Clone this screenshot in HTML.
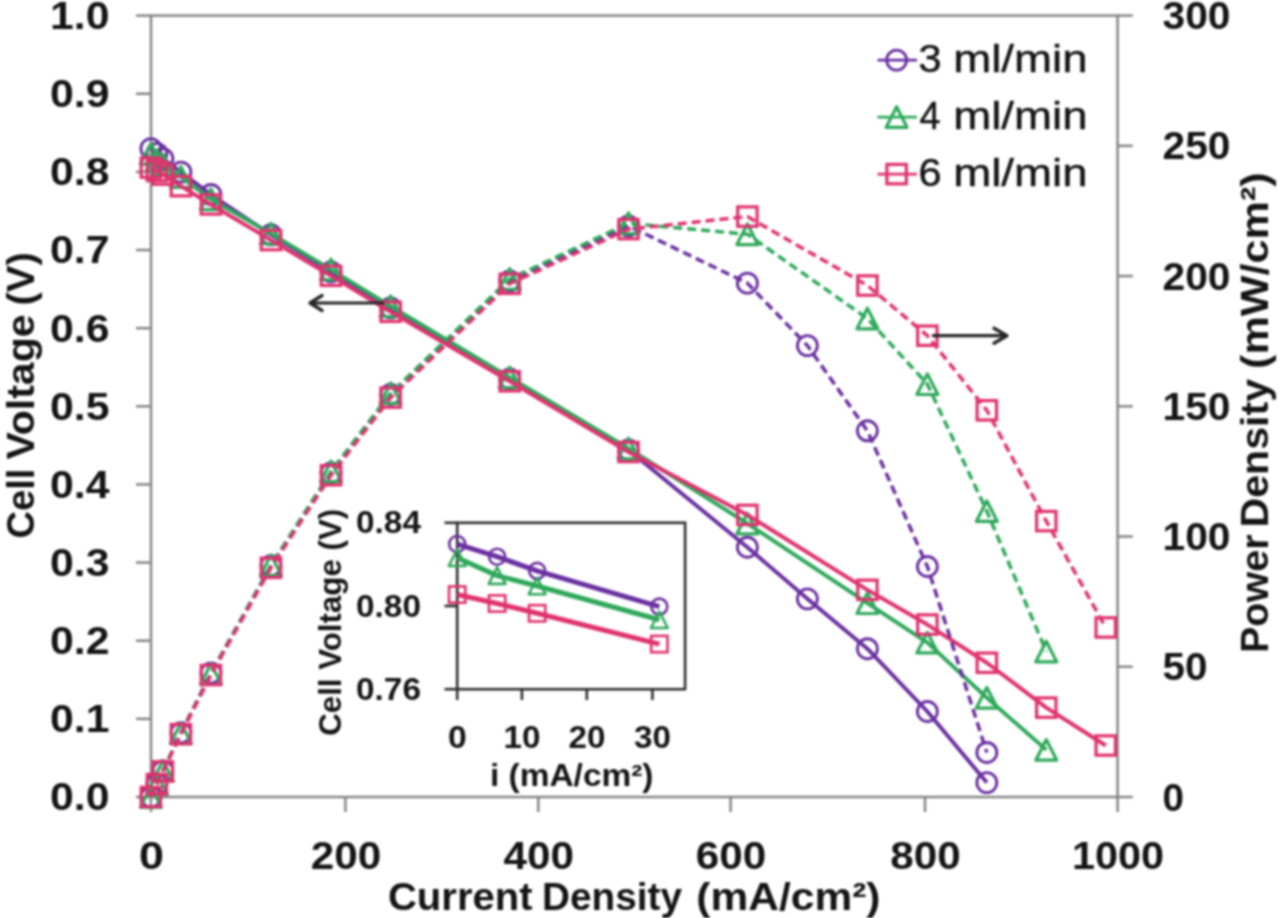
<!DOCTYPE html>
<html><head><meta charset="utf-8"><title>Cell voltage and power density chart</title>
<style>html,body{margin:0;padding:0;background:#fff;}svg{display:block;}#wrap{width:1280px;height:918px;overflow:hidden;filter:blur(1px);}</style></head>
<body>
<div id="wrap">
<svg width="1280" height="918" viewBox="0 0 1280 918">
<rect width="1280" height="918" fill="#fff"/>
<rect x="151.0" y="15.6" width="966.5999999999999" height="781.4" fill="none" stroke="#858585" stroke-width="2.5"/>
<line x1="136" y1="797.00" x2="151.0" y2="797.00" stroke="#858585" stroke-width="2.5"/>
<line x1="136" y1="718.86" x2="151.0" y2="718.86" stroke="#858585" stroke-width="2.5"/>
<line x1="136" y1="640.72" x2="151.0" y2="640.72" stroke="#858585" stroke-width="2.5"/>
<line x1="136" y1="562.58" x2="151.0" y2="562.58" stroke="#858585" stroke-width="2.5"/>
<line x1="136" y1="484.44" x2="151.0" y2="484.44" stroke="#858585" stroke-width="2.5"/>
<line x1="136" y1="406.30" x2="151.0" y2="406.30" stroke="#858585" stroke-width="2.5"/>
<line x1="136" y1="328.16" x2="151.0" y2="328.16" stroke="#858585" stroke-width="2.5"/>
<line x1="136" y1="250.02" x2="151.0" y2="250.02" stroke="#858585" stroke-width="2.5"/>
<line x1="136" y1="171.88" x2="151.0" y2="171.88" stroke="#858585" stroke-width="2.5"/>
<line x1="136" y1="93.74" x2="151.0" y2="93.74" stroke="#858585" stroke-width="2.5"/>
<line x1="136" y1="15.60" x2="151.0" y2="15.60" stroke="#858585" stroke-width="2.5"/>
<line x1="1117.6" y1="797.00" x2="1132.8" y2="797.00" stroke="#858585" stroke-width="2.5"/>
<line x1="1117.6" y1="666.77" x2="1132.8" y2="666.77" stroke="#858585" stroke-width="2.5"/>
<line x1="1117.6" y1="536.53" x2="1132.8" y2="536.53" stroke="#858585" stroke-width="2.5"/>
<line x1="1117.6" y1="406.30" x2="1132.8" y2="406.30" stroke="#858585" stroke-width="2.5"/>
<line x1="1117.6" y1="276.07" x2="1132.8" y2="276.07" stroke="#858585" stroke-width="2.5"/>
<line x1="1117.6" y1="145.83" x2="1132.8" y2="145.83" stroke="#858585" stroke-width="2.5"/>
<line x1="1117.6" y1="15.60" x2="1132.8" y2="15.60" stroke="#858585" stroke-width="2.5"/>
<line x1="150.90" y1="797.0" x2="150.90" y2="812" stroke="#858585" stroke-width="2.5"/>
<line x1="345.40" y1="797.0" x2="345.40" y2="812" stroke="#858585" stroke-width="2.5"/>
<line x1="538.30" y1="797.0" x2="538.30" y2="812" stroke="#858585" stroke-width="2.5"/>
<line x1="730.60" y1="797.0" x2="730.60" y2="812" stroke="#858585" stroke-width="2.5"/>
<line x1="925.00" y1="797.0" x2="925.00" y2="812" stroke="#858585" stroke-width="2.5"/>
<line x1="1117.60" y1="797.0" x2="1117.60" y2="812" stroke="#858585" stroke-width="2.5"/>
<polyline points="150.90,148.59 156.90,153.36 162.91,158.67 180.91,172.11 210.93,194.54 270.96,234.78 331.00,271.90 390.64,307.84 509.72,378.95 628.52,450.06 747.40,547.26 807.40,598.84 867.40,648.69 927.38,711.51 986.82,782.62" fill="none" stroke="#6a30a0" stroke-width="3.9" stroke-linejoin="round"/>
<circle cx="150.90" cy="148.59" r="10.0" fill="none" stroke="#6a30a0" stroke-width="2.9"/>
<circle cx="156.90" cy="153.36" r="10.0" fill="none" stroke="#6a30a0" stroke-width="2.9"/>
<circle cx="162.91" cy="158.67" r="10.0" fill="none" stroke="#6a30a0" stroke-width="2.9"/>
<circle cx="180.91" cy="172.11" r="10.0" fill="none" stroke="#6a30a0" stroke-width="2.9"/>
<circle cx="210.93" cy="194.54" r="10.0" fill="none" stroke="#6a30a0" stroke-width="2.9"/>
<circle cx="270.96" cy="234.78" r="10.0" fill="none" stroke="#6a30a0" stroke-width="2.9"/>
<circle cx="331.00" cy="271.90" r="10.0" fill="none" stroke="#6a30a0" stroke-width="2.9"/>
<circle cx="390.64" cy="307.84" r="10.0" fill="none" stroke="#6a30a0" stroke-width="2.9"/>
<circle cx="509.72" cy="378.95" r="10.0" fill="none" stroke="#6a30a0" stroke-width="2.9"/>
<circle cx="628.52" cy="450.06" r="10.0" fill="none" stroke="#6a30a0" stroke-width="2.9"/>
<circle cx="747.40" cy="547.26" r="10.0" fill="none" stroke="#6a30a0" stroke-width="2.9"/>
<circle cx="807.40" cy="598.84" r="10.0" fill="none" stroke="#6a30a0" stroke-width="2.9"/>
<circle cx="867.40" cy="648.69" r="10.0" fill="none" stroke="#6a30a0" stroke-width="2.9"/>
<circle cx="927.38" cy="711.51" r="10.0" fill="none" stroke="#6a30a0" stroke-width="2.9"/>
<circle cx="986.82" cy="782.62" r="10.0" fill="none" stroke="#6a30a0" stroke-width="2.9"/>
<polyline points="150.90,153.75 156.90,160.47 162.91,164.38 180.91,177.04 210.93,199.23 270.96,233.61 331.00,269.55 390.64,306.28 509.72,377.39 628.52,448.50 747.40,523.51 867.40,603.21 927.38,642.67 986.82,697.76 1046.27,749.88" fill="none" stroke="#2fa85a" stroke-width="3.9" stroke-linejoin="round"/>
<polygon points="150.90,143.45 161.40,164.05 140.40,164.05" fill="none" stroke="#2fa85a" stroke-width="3.2" stroke-linejoin="round"/>
<polygon points="156.90,150.17 167.40,170.77 146.40,170.77" fill="none" stroke="#2fa85a" stroke-width="3.2" stroke-linejoin="round"/>
<polygon points="162.91,154.08 173.41,174.68 152.41,174.68" fill="none" stroke="#2fa85a" stroke-width="3.2" stroke-linejoin="round"/>
<polygon points="180.91,166.74 191.41,187.34 170.41,187.34" fill="none" stroke="#2fa85a" stroke-width="3.2" stroke-linejoin="round"/>
<polygon points="210.93,188.93 221.43,209.53 200.43,209.53" fill="none" stroke="#2fa85a" stroke-width="3.2" stroke-linejoin="round"/>
<polygon points="270.96,223.31 281.46,243.91 260.46,243.91" fill="none" stroke="#2fa85a" stroke-width="3.2" stroke-linejoin="round"/>
<polygon points="331.00,259.25 341.50,279.85 320.50,279.85" fill="none" stroke="#2fa85a" stroke-width="3.2" stroke-linejoin="round"/>
<polygon points="390.64,295.98 401.14,316.58 380.14,316.58" fill="none" stroke="#2fa85a" stroke-width="3.2" stroke-linejoin="round"/>
<polygon points="509.72,367.09 520.22,387.69 499.22,387.69" fill="none" stroke="#2fa85a" stroke-width="3.2" stroke-linejoin="round"/>
<polygon points="628.52,438.20 639.02,458.80 618.02,458.80" fill="none" stroke="#2fa85a" stroke-width="3.2" stroke-linejoin="round"/>
<polygon points="747.40,513.21 757.90,533.81 736.90,533.81" fill="none" stroke="#2fa85a" stroke-width="3.2" stroke-linejoin="round"/>
<polygon points="867.40,592.91 877.90,613.51 856.90,613.51" fill="none" stroke="#2fa85a" stroke-width="3.2" stroke-linejoin="round"/>
<polygon points="927.38,632.37 937.88,652.97 916.88,652.97" fill="none" stroke="#2fa85a" stroke-width="3.2" stroke-linejoin="round"/>
<polygon points="986.82,687.46 997.32,708.06 976.32,708.06" fill="none" stroke="#2fa85a" stroke-width="3.2" stroke-linejoin="round"/>
<polygon points="1046.27,739.58 1056.77,760.18 1035.77,760.18" fill="none" stroke="#2fa85a" stroke-width="3.2" stroke-linejoin="round"/>
<polyline points="150.90,167.58 156.90,170.94 162.91,174.61 180.91,186.18 210.93,204.46 270.96,240.10 331.00,275.81 390.64,311.75 509.72,381.30 628.52,452.01 747.40,514.91 867.40,589.85 927.38,624.55 986.82,662.76 1046.27,707.61 1105.71,745.51" fill="none" stroke="#e0326e" stroke-width="3.9" stroke-linejoin="round"/>
<rect x="141.20" y="157.88" width="19.4" height="19.4" fill="none" stroke="#e0326e" stroke-width="3.2"/>
<rect x="147.20" y="161.24" width="19.4" height="19.4" fill="none" stroke="#e0326e" stroke-width="3.2"/>
<rect x="153.21" y="164.91" width="19.4" height="19.4" fill="none" stroke="#e0326e" stroke-width="3.2"/>
<rect x="171.21" y="176.48" width="19.4" height="19.4" fill="none" stroke="#e0326e" stroke-width="3.2"/>
<rect x="201.23" y="194.76" width="19.4" height="19.4" fill="none" stroke="#e0326e" stroke-width="3.2"/>
<rect x="261.26" y="230.40" width="19.4" height="19.4" fill="none" stroke="#e0326e" stroke-width="3.2"/>
<rect x="321.30" y="266.11" width="19.4" height="19.4" fill="none" stroke="#e0326e" stroke-width="3.2"/>
<rect x="380.94" y="302.05" width="19.4" height="19.4" fill="none" stroke="#e0326e" stroke-width="3.2"/>
<rect x="500.02" y="371.60" width="19.4" height="19.4" fill="none" stroke="#e0326e" stroke-width="3.2"/>
<rect x="618.82" y="442.31" width="19.4" height="19.4" fill="none" stroke="#e0326e" stroke-width="3.2"/>
<rect x="737.70" y="505.21" width="19.4" height="19.4" fill="none" stroke="#e0326e" stroke-width="3.2"/>
<rect x="857.70" y="580.15" width="19.4" height="19.4" fill="none" stroke="#e0326e" stroke-width="3.2"/>
<rect x="917.68" y="614.85" width="19.4" height="19.4" fill="none" stroke="#e0326e" stroke-width="3.2"/>
<rect x="977.12" y="653.06" width="19.4" height="19.4" fill="none" stroke="#e0326e" stroke-width="3.2"/>
<rect x="1036.57" y="697.91" width="19.4" height="19.4" fill="none" stroke="#e0326e" stroke-width="3.2"/>
<rect x="1096.01" y="735.81" width="19.4" height="19.4" fill="none" stroke="#e0326e" stroke-width="3.2"/>
<polyline points="150.90,797.00 156.90,783.76 162.91,770.72 180.91,732.72 210.93,673.03 270.96,565.63 331.00,472.86 390.64,394.41 509.72,280.89 628.52,225.90 747.40,283.14 807.40,345.61 867.40,430.80 927.38,566.49 986.82,752.46" fill="none" stroke="#6a30a0" stroke-width="3.5" stroke-linejoin="round" stroke-dasharray="9 5"/>
<circle cx="150.90" cy="797.00" r="10.0" fill="none" stroke="#6a30a0" stroke-width="2.9"/>
<circle cx="156.90" cy="783.76" r="10.0" fill="none" stroke="#6a30a0" stroke-width="2.9"/>
<circle cx="162.91" cy="770.72" r="10.0" fill="none" stroke="#6a30a0" stroke-width="2.9"/>
<circle cx="180.91" cy="732.72" r="10.0" fill="none" stroke="#6a30a0" stroke-width="2.9"/>
<circle cx="210.93" cy="673.03" r="10.0" fill="none" stroke="#6a30a0" stroke-width="2.9"/>
<circle cx="270.96" cy="565.63" r="10.0" fill="none" stroke="#6a30a0" stroke-width="2.9"/>
<circle cx="331.00" cy="472.86" r="10.0" fill="none" stroke="#6a30a0" stroke-width="2.9"/>
<circle cx="390.64" cy="394.41" r="10.0" fill="none" stroke="#6a30a0" stroke-width="2.9"/>
<circle cx="509.72" cy="280.89" r="10.0" fill="none" stroke="#6a30a0" stroke-width="2.9"/>
<circle cx="628.52" cy="225.90" r="10.0" fill="none" stroke="#6a30a0" stroke-width="2.9"/>
<circle cx="747.40" cy="283.14" r="10.0" fill="none" stroke="#6a30a0" stroke-width="2.9"/>
<circle cx="807.40" cy="345.61" r="10.0" fill="none" stroke="#6a30a0" stroke-width="2.9"/>
<circle cx="867.40" cy="430.80" r="10.0" fill="none" stroke="#6a30a0" stroke-width="2.9"/>
<circle cx="927.38" cy="566.49" r="10.0" fill="none" stroke="#6a30a0" stroke-width="2.9"/>
<circle cx="986.82" cy="752.46" r="10.0" fill="none" stroke="#6a30a0" stroke-width="2.9"/>
<polyline points="150.90,797.00 156.90,783.91 162.91,770.96 180.91,733.23 210.93,674.00 270.96,565.15 331.00,471.41 390.64,393.12 509.72,278.96 628.52,223.33 747.40,234.27 867.40,318.51 927.38,384.19 986.82,511.13 1046.27,651.57" fill="none" stroke="#2fa85a" stroke-width="3.5" stroke-linejoin="round" stroke-dasharray="9 5"/>
<polygon points="150.90,786.70 161.40,807.30 140.40,807.30" fill="none" stroke="#2fa85a" stroke-width="3.2" stroke-linejoin="round"/>
<polygon points="156.90,773.61 167.40,794.21 146.40,794.21" fill="none" stroke="#2fa85a" stroke-width="3.2" stroke-linejoin="round"/>
<polygon points="162.91,760.66 173.41,781.26 152.41,781.26" fill="none" stroke="#2fa85a" stroke-width="3.2" stroke-linejoin="round"/>
<polygon points="180.91,722.93 191.41,743.53 170.41,743.53" fill="none" stroke="#2fa85a" stroke-width="3.2" stroke-linejoin="round"/>
<polygon points="210.93,663.70 221.43,684.30 200.43,684.30" fill="none" stroke="#2fa85a" stroke-width="3.2" stroke-linejoin="round"/>
<polygon points="270.96,554.85 281.46,575.45 260.46,575.45" fill="none" stroke="#2fa85a" stroke-width="3.2" stroke-linejoin="round"/>
<polygon points="331.00,461.11 341.50,481.71 320.50,481.71" fill="none" stroke="#2fa85a" stroke-width="3.2" stroke-linejoin="round"/>
<polygon points="390.64,382.82 401.14,403.42 380.14,403.42" fill="none" stroke="#2fa85a" stroke-width="3.2" stroke-linejoin="round"/>
<polygon points="509.72,268.66 520.22,289.26 499.22,289.26" fill="none" stroke="#2fa85a" stroke-width="3.2" stroke-linejoin="round"/>
<polygon points="628.52,213.03 639.02,233.63 618.02,233.63" fill="none" stroke="#2fa85a" stroke-width="3.2" stroke-linejoin="round"/>
<polygon points="747.40,223.97 757.90,244.57 736.90,244.57" fill="none" stroke="#2fa85a" stroke-width="3.2" stroke-linejoin="round"/>
<polygon points="867.40,308.21 877.90,328.81 856.90,328.81" fill="none" stroke="#2fa85a" stroke-width="3.2" stroke-linejoin="round"/>
<polygon points="927.38,373.89 937.88,394.49 916.88,394.49" fill="none" stroke="#2fa85a" stroke-width="3.2" stroke-linejoin="round"/>
<polygon points="986.82,500.83 997.32,521.43 976.32,521.43" fill="none" stroke="#2fa85a" stroke-width="3.2" stroke-linejoin="round"/>
<polygon points="1046.27,641.27 1056.77,661.87 1035.77,661.87" fill="none" stroke="#2fa85a" stroke-width="3.2" stroke-linejoin="round"/>
<polyline points="150.90,797.00 156.90,784.12 162.91,771.38 180.91,734.17 210.93,675.08 270.96,567.82 331.00,475.27 390.64,397.62 509.72,283.78 628.52,229.12 747.40,216.58 867.40,285.52 927.38,335.70 986.82,410.29 1046.27,521.10 1105.71,627.47" fill="none" stroke="#e0326e" stroke-width="3.5" stroke-linejoin="round" stroke-dasharray="9 5"/>
<rect x="141.20" y="787.30" width="19.4" height="19.4" fill="none" stroke="#e0326e" stroke-width="3.2"/>
<rect x="147.20" y="774.42" width="19.4" height="19.4" fill="none" stroke="#e0326e" stroke-width="3.2"/>
<rect x="153.21" y="761.68" width="19.4" height="19.4" fill="none" stroke="#e0326e" stroke-width="3.2"/>
<rect x="171.21" y="724.47" width="19.4" height="19.4" fill="none" stroke="#e0326e" stroke-width="3.2"/>
<rect x="201.23" y="665.38" width="19.4" height="19.4" fill="none" stroke="#e0326e" stroke-width="3.2"/>
<rect x="261.26" y="558.12" width="19.4" height="19.4" fill="none" stroke="#e0326e" stroke-width="3.2"/>
<rect x="321.30" y="465.57" width="19.4" height="19.4" fill="none" stroke="#e0326e" stroke-width="3.2"/>
<rect x="380.94" y="387.92" width="19.4" height="19.4" fill="none" stroke="#e0326e" stroke-width="3.2"/>
<rect x="500.02" y="274.08" width="19.4" height="19.4" fill="none" stroke="#e0326e" stroke-width="3.2"/>
<rect x="618.82" y="219.42" width="19.4" height="19.4" fill="none" stroke="#e0326e" stroke-width="3.2"/>
<rect x="737.70" y="206.88" width="19.4" height="19.4" fill="none" stroke="#e0326e" stroke-width="3.2"/>
<rect x="857.70" y="275.82" width="19.4" height="19.4" fill="none" stroke="#e0326e" stroke-width="3.2"/>
<rect x="917.68" y="326.00" width="19.4" height="19.4" fill="none" stroke="#e0326e" stroke-width="3.2"/>
<rect x="977.12" y="400.59" width="19.4" height="19.4" fill="none" stroke="#e0326e" stroke-width="3.2"/>
<rect x="1036.57" y="511.40" width="19.4" height="19.4" fill="none" stroke="#e0326e" stroke-width="3.2"/>
<rect x="1096.01" y="617.77" width="19.4" height="19.4" fill="none" stroke="#e0326e" stroke-width="3.2"/>

<line x1="311" y1="303" x2="384" y2="303" stroke="#262626" stroke-width="3.2"/>
<polyline points="322,295.5 310,303 322,310.5" fill="none" stroke="#262626" stroke-width="3.4" stroke-linecap="round" stroke-linejoin="round"/>
<line x1="932" y1="335.7" x2="1006" y2="335.7" stroke="#262626" stroke-width="3.2"/>
<polyline points="994,328.2 1007,335.7 994,343.2" fill="none" stroke="#262626" stroke-width="3.4" stroke-linecap="round" stroke-linejoin="round"/>

<rect x="457.2" y="522.8" width="227.90000000000003" height="166.4000000000001" fill="#fff" stroke="#2e2e2e" stroke-width="2.6"/>
<line x1="444.5" y1="689.20" x2="457.2" y2="689.20" stroke="#2e2e2e" stroke-width="2.6"/>
<line x1="444.5" y1="606.00" x2="457.2" y2="606.00" stroke="#2e2e2e" stroke-width="2.6"/>
<line x1="444.5" y1="522.80" x2="457.2" y2="522.80" stroke="#2e2e2e" stroke-width="2.6"/>
<line x1="457.20" y1="689.2" x2="457.20" y2="700" stroke="#2e2e2e" stroke-width="2.6"/>
<line x1="521.90" y1="689.2" x2="521.90" y2="700" stroke="#2e2e2e" stroke-width="2.6"/>
<line x1="586.80" y1="689.2" x2="586.80" y2="700" stroke="#2e2e2e" stroke-width="2.6"/>
<line x1="652.40" y1="689.2" x2="652.40" y2="700" stroke="#2e2e2e" stroke-width="2.6"/>
<polyline points="457.20,544.02 497.12,556.70 537.15,570.85 659.33,606.62" fill="none" stroke="#6a30a0" stroke-width="5.0" stroke-linejoin="round"/>
<circle cx="457.20" cy="544.02" r="8.0" fill="none" stroke="#6a30a0" stroke-width="2.6"/>
<circle cx="497.12" cy="556.70" r="8.0" fill="none" stroke="#6a30a0" stroke-width="2.6"/>
<circle cx="537.15" cy="570.85" r="8.0" fill="none" stroke="#6a30a0" stroke-width="2.6"/>
<circle cx="659.33" cy="606.62" r="8.0" fill="none" stroke="#6a30a0" stroke-width="2.6"/>
<polyline points="457.20,557.74 497.12,575.63 537.15,586.03 659.33,619.73" fill="none" stroke="#2fa85a" stroke-width="5.0" stroke-linejoin="round"/>
<polygon points="457.20,549.50 465.60,565.98 448.80,565.98" fill="none" stroke="#2fa85a" stroke-width="2.6" stroke-linejoin="round"/>
<polygon points="497.12,567.39 505.52,583.87 488.72,583.87" fill="none" stroke="#2fa85a" stroke-width="2.6" stroke-linejoin="round"/>
<polygon points="537.15,577.79 545.55,594.27 528.75,594.27" fill="none" stroke="#2fa85a" stroke-width="2.6" stroke-linejoin="round"/>
<polygon points="659.33,611.49 667.73,627.97 650.93,627.97" fill="none" stroke="#2fa85a" stroke-width="2.6" stroke-linejoin="round"/>
<polyline points="457.20,594.56 497.12,603.50 537.15,613.28 659.33,644.06" fill="none" stroke="#e0326e" stroke-width="5.0" stroke-linejoin="round"/>
<rect x="449.05" y="586.41" width="16.296" height="16.296" fill="none" stroke="#e0326e" stroke-width="2.6"/>
<rect x="488.97" y="595.36" width="16.296" height="16.296" fill="none" stroke="#e0326e" stroke-width="2.6"/>
<rect x="529.00" y="605.13" width="16.296" height="16.296" fill="none" stroke="#e0326e" stroke-width="2.6"/>
<rect x="651.18" y="635.92" width="16.296" height="16.296" fill="none" stroke="#e0326e" stroke-width="2.6"/>
<text x="421" y="699.80" font-family="Liberation Sans, Arial, sans-serif" font-weight="bold" font-size="31" text-anchor="end" textLength="65" lengthAdjust="spacingAndGlyphs" fill="#141414">0.76</text>
<text x="421" y="616.60" font-family="Liberation Sans, Arial, sans-serif" font-weight="bold" font-size="31" text-anchor="end" textLength="65" lengthAdjust="spacingAndGlyphs" fill="#141414">0.80</text>
<text x="421" y="533.40" font-family="Liberation Sans, Arial, sans-serif" font-weight="bold" font-size="31" text-anchor="end" textLength="65" lengthAdjust="spacingAndGlyphs" fill="#141414">0.84</text>
<text x="457.30" y="747.8" font-family="Liberation Sans, Arial, sans-serif" font-weight="bold" font-size="31" text-anchor="middle" textLength="18.8" lengthAdjust="spacingAndGlyphs" fill="#141414">0</text>
<text x="522.00" y="747.8" font-family="Liberation Sans, Arial, sans-serif" font-weight="bold" font-size="31" text-anchor="middle" textLength="37" lengthAdjust="spacingAndGlyphs" fill="#141414">10</text>
<text x="586.90" y="747.8" font-family="Liberation Sans, Arial, sans-serif" font-weight="bold" font-size="31" text-anchor="middle" textLength="37" lengthAdjust="spacingAndGlyphs" fill="#141414">20</text>
<text x="652.50" y="747.8" font-family="Liberation Sans, Arial, sans-serif" font-weight="bold" font-size="31" text-anchor="middle" textLength="37" lengthAdjust="spacingAndGlyphs" fill="#141414">30</text>
<text x="490" y="786" font-family="Liberation Sans, Arial, sans-serif" font-weight="bold" font-size="31" textLength="163.5" lengthAdjust="spacingAndGlyphs" fill="#141414">i (mA/cm²)</text>
<text transform="translate(340.7,735.8) rotate(-90)" x="0" y="0" font-family="Liberation Sans, Arial, sans-serif" font-weight="bold" font-size="31" textLength="227" lengthAdjust="spacingAndGlyphs" fill="#141414">Cell Voltage (V)</text>
<line x1="877.5" y1="60.1" x2="917" y2="60.1" stroke="#6a30a0" stroke-width="2.6"/>
<circle cx="896.60" cy="60.10" r="10.0" fill="none" stroke="#6a30a0" stroke-width="2.9"/>
<text x="918.55" y="71.6" font-family="Liberation Sans, Arial, sans-serif" font-size="38.5" textLength="23.10" lengthAdjust="spacingAndGlyphs" fill="#141414" stroke="#141414" stroke-width="0.45">3</text>
<text x="953.23" y="71.6" font-family="Liberation Sans, Arial, sans-serif" font-size="38.5" textLength="134.33" lengthAdjust="spacingAndGlyphs" fill="#141414" stroke="#141414" stroke-width="0.45">ml/min</text>
<line x1="877.5" y1="117.1" x2="917" y2="117.1" stroke="#2fa85a" stroke-width="2.6"/>
<polygon points="896.60,106.80 907.10,127.40 886.10,127.40" fill="none" stroke="#2fa85a" stroke-width="3.2" stroke-linejoin="round"/>
<text x="919.60" y="128.6" font-family="Liberation Sans, Arial, sans-serif" font-size="38.5" textLength="21.00" lengthAdjust="spacingAndGlyphs" fill="#141414" stroke="#141414" stroke-width="0.45">4</text>
<text x="953.23" y="128.6" font-family="Liberation Sans, Arial, sans-serif" font-size="38.5" textLength="134.33" lengthAdjust="spacingAndGlyphs" fill="#141414" stroke="#141414" stroke-width="0.45">ml/min</text>
<line x1="877.5" y1="174.1" x2="917" y2="174.1" stroke="#e0326e" stroke-width="2.6"/>
<rect x="886.90" y="164.40" width="19.4" height="19.4" fill="none" stroke="#e0326e" stroke-width="3.2"/>
<text x="918.55" y="185.6" font-family="Liberation Sans, Arial, sans-serif" font-size="38.5" textLength="23.10" lengthAdjust="spacingAndGlyphs" fill="#141414" stroke="#141414" stroke-width="0.45">6</text>
<text x="953.23" y="185.6" font-family="Liberation Sans, Arial, sans-serif" font-size="38.5" textLength="134.33" lengthAdjust="spacingAndGlyphs" fill="#141414" stroke="#141414" stroke-width="0.45">ml/min</text>
<text x="109.5" y="810.40" font-family="Liberation Sans, Arial, sans-serif" font-weight="bold" font-size="38.6" text-anchor="end" textLength="59.5" lengthAdjust="spacingAndGlyphs" fill="#141414">0.0</text>
<text x="109.5" y="732.26" font-family="Liberation Sans, Arial, sans-serif" font-weight="bold" font-size="38.6" text-anchor="end" textLength="59.5" lengthAdjust="spacingAndGlyphs" fill="#141414">0.1</text>
<text x="109.5" y="654.12" font-family="Liberation Sans, Arial, sans-serif" font-weight="bold" font-size="38.6" text-anchor="end" textLength="59.5" lengthAdjust="spacingAndGlyphs" fill="#141414">0.2</text>
<text x="109.5" y="575.98" font-family="Liberation Sans, Arial, sans-serif" font-weight="bold" font-size="38.6" text-anchor="end" textLength="59.5" lengthAdjust="spacingAndGlyphs" fill="#141414">0.3</text>
<text x="109.5" y="497.84" font-family="Liberation Sans, Arial, sans-serif" font-weight="bold" font-size="38.6" text-anchor="end" textLength="59.5" lengthAdjust="spacingAndGlyphs" fill="#141414">0.4</text>
<text x="109.5" y="419.70" font-family="Liberation Sans, Arial, sans-serif" font-weight="bold" font-size="38.6" text-anchor="end" textLength="59.5" lengthAdjust="spacingAndGlyphs" fill="#141414">0.5</text>
<text x="109.5" y="341.56" font-family="Liberation Sans, Arial, sans-serif" font-weight="bold" font-size="38.6" text-anchor="end" textLength="59.5" lengthAdjust="spacingAndGlyphs" fill="#141414">0.6</text>
<text x="109.5" y="263.42" font-family="Liberation Sans, Arial, sans-serif" font-weight="bold" font-size="38.6" text-anchor="end" textLength="59.5" lengthAdjust="spacingAndGlyphs" fill="#141414">0.7</text>
<text x="109.5" y="185.28" font-family="Liberation Sans, Arial, sans-serif" font-weight="bold" font-size="38.6" text-anchor="end" textLength="59.5" lengthAdjust="spacingAndGlyphs" fill="#141414">0.8</text>
<text x="109.5" y="107.14" font-family="Liberation Sans, Arial, sans-serif" font-weight="bold" font-size="38.6" text-anchor="end" textLength="59.5" lengthAdjust="spacingAndGlyphs" fill="#141414">0.9</text>
<text x="109.5" y="29.00" font-family="Liberation Sans, Arial, sans-serif" font-weight="bold" font-size="38.6" text-anchor="end" textLength="59.5" lengthAdjust="spacingAndGlyphs" fill="#141414">1.0</text>
<text x="1162.5" y="810.50" font-family="Liberation Sans, Arial, sans-serif" font-weight="bold" font-size="38.6" textLength="21.5" lengthAdjust="spacingAndGlyphs" fill="#141414">0</text>
<text x="1162.5" y="680.27" font-family="Liberation Sans, Arial, sans-serif" font-weight="bold" font-size="38.6" textLength="45" lengthAdjust="spacingAndGlyphs" fill="#141414">50</text>
<text x="1162.5" y="550.03" font-family="Liberation Sans, Arial, sans-serif" font-weight="bold" font-size="38.6" textLength="68" lengthAdjust="spacingAndGlyphs" fill="#141414">100</text>
<text x="1162.5" y="419.80" font-family="Liberation Sans, Arial, sans-serif" font-weight="bold" font-size="38.6" textLength="68" lengthAdjust="spacingAndGlyphs" fill="#141414">150</text>
<text x="1162.5" y="289.57" font-family="Liberation Sans, Arial, sans-serif" font-weight="bold" font-size="38.6" textLength="68" lengthAdjust="spacingAndGlyphs" fill="#141414">200</text>
<text x="1162.5" y="159.33" font-family="Liberation Sans, Arial, sans-serif" font-weight="bold" font-size="38.6" textLength="68" lengthAdjust="spacingAndGlyphs" fill="#141414">250</text>
<text x="1162.5" y="29.10" font-family="Liberation Sans, Arial, sans-serif" font-weight="bold" font-size="38.6" textLength="68" lengthAdjust="spacingAndGlyphs" fill="#141414">300</text>
<text x="151.40" y="869" font-family="Liberation Sans, Arial, sans-serif" font-weight="bold" font-size="38.6" text-anchor="middle" textLength="25" lengthAdjust="spacingAndGlyphs" fill="#141414">0</text>
<text x="345.90" y="869" font-family="Liberation Sans, Arial, sans-serif" font-weight="bold" font-size="38.6" text-anchor="middle" textLength="70.5" lengthAdjust="spacingAndGlyphs" fill="#141414">200</text>
<text x="538.80" y="869" font-family="Liberation Sans, Arial, sans-serif" font-weight="bold" font-size="38.6" text-anchor="middle" textLength="70.5" lengthAdjust="spacingAndGlyphs" fill="#141414">400</text>
<text x="731.10" y="869" font-family="Liberation Sans, Arial, sans-serif" font-weight="bold" font-size="38.6" text-anchor="middle" textLength="70.5" lengthAdjust="spacingAndGlyphs" fill="#141414">600</text>
<text x="925.50" y="869" font-family="Liberation Sans, Arial, sans-serif" font-weight="bold" font-size="38.6" text-anchor="middle" textLength="70.5" lengthAdjust="spacingAndGlyphs" fill="#141414">800</text>
<text x="1118.10" y="869" font-family="Liberation Sans, Arial, sans-serif" font-weight="bold" font-size="38.6" text-anchor="middle" textLength="92" lengthAdjust="spacingAndGlyphs" fill="#141414">1000</text>
<text x="387.94" y="909.5" font-family="Liberation Sans, Arial, sans-serif" font-weight="bold" font-size="39.3" textLength="144.66" lengthAdjust="spacingAndGlyphs" fill="#141414">Current</text>
<text x="542.03" y="909.5" font-family="Liberation Sans, Arial, sans-serif" font-weight="bold" font-size="39.3" textLength="139.97" lengthAdjust="spacingAndGlyphs" fill="#141414">Density</text>
<text x="696.37" y="909.5" font-family="Liberation Sans, Arial, sans-serif" font-weight="bold" font-size="39.3" textLength="184.16" lengthAdjust="spacingAndGlyphs" fill="#141414">(mA/cm²)</text>
<text transform="translate(34.3,538.60) rotate(-90)" x="0" y="0" font-family="Liberation Sans, Arial, sans-serif" font-weight="bold" font-size="39" textLength="70.04" lengthAdjust="spacingAndGlyphs" fill="#141414">Cell</text>
<text transform="translate(34.3,459.50) rotate(-90)" x="0" y="0" font-family="Liberation Sans, Arial, sans-serif" font-weight="bold" font-size="39" textLength="144.97" lengthAdjust="spacingAndGlyphs" fill="#141414">Voltage</text>
<text transform="translate(34.3,305.48) rotate(-90)" x="0" y="0" font-family="Liberation Sans, Arial, sans-serif" font-weight="bold" font-size="39" textLength="53.36" lengthAdjust="spacingAndGlyphs" fill="#141414">(V)</text>
<text transform="translate(1268.3,653.08) rotate(-90)" x="0" y="0" font-family="Liberation Sans, Arial, sans-serif" font-weight="bold" font-size="39" textLength="118.78" lengthAdjust="spacingAndGlyphs" fill="#141414">Power</text>
<text transform="translate(1268.3,527.48) rotate(-90)" x="0" y="0" font-family="Liberation Sans, Arial, sans-serif" font-weight="bold" font-size="39" textLength="148.58" lengthAdjust="spacingAndGlyphs" fill="#141414">Density</text>
<text transform="translate(1268.3,368.91) rotate(-90)" x="0" y="0" font-family="Liberation Sans, Arial, sans-serif" font-weight="bold" font-size="39" textLength="196.62" lengthAdjust="spacingAndGlyphs" fill="#141414">(mW/cm²)</text>
</svg>
</div>
</body></html>
